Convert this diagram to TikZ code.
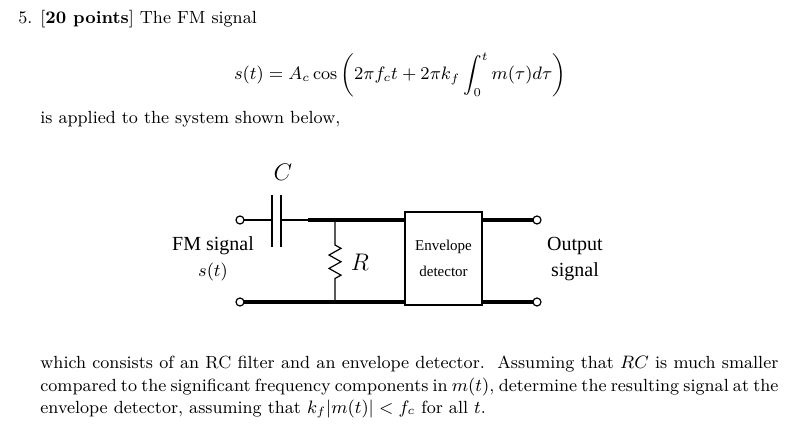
\documentclass[tikz,border=0pt]{standalone}
\usepackage{amsmath}
\usepackage{fontspec}
\newfontfamily\tms{Liberation Serif}
\usetikzlibrary{decorations.pathmorphing}
\begin{document}
\begin{tikzpicture}[x=0.5pt,y=-0.5pt,
  txt/.style={anchor=base west,inner sep=0pt,font=\fontsize{8.8}{11}\selectfont},
  thick wire/.style={line width=1.6pt},
  thin wire/.style={line width=0.6pt},
  term/.style={circle,draw,line width=0.6pt,fill=white,inner sep=0pt,minimum size=4pt},
  clab/.style={inner sep=0pt,font=\tms\fontsize{10}{12}\selectfont,align=center}]
\useasboundingbox (0,0) rectangle (798,438);
\node[txt] (n5) at (18,24) {5.};
\node[txt] (h) at (40,24) {[\textbf{20 points}] The FM signal};
\node[inner sep=0pt,font=\fontsize{8.8}{11}\selectfont] (eq) at (400,75) {$\displaystyle s(t)=A_c\cos\left(2\pi f_ct+2\pi k_f\int_0^t m(\tau)d\tau\right)$};
\node[txt] (ap) at (40,124) {is applied to the system shown below,};
\node[txt] (l1) at (40,369) {\makebox[369pt][s]{which consists of an RC filter and an envelope detector.\ \ Assuming that $RC$ is much smaller}};
\node[txt] (l2) at (40,391) {\makebox[369pt][s]{compared to the significant frequency components in $m(t)$, determine the resulting signal at the}};
\node[txt] (l3) at (40,413) {envelope detector, assuming that $k_f|m(t)|<f_c$ for all $t$.};
% circuit
\coordinate (c1) at (272,220); \coordinate (c2) at (281,220);
\coordinate (j) at (308,220); \coordinate (rt) at (335,220); \coordinate (rb) at (335,302);
\node[draw,line width=1.4pt,minimum width=38.5pt,minimum height=46.5pt,inner sep=0pt,
  font=\tms\fontsize{7.5}{13}\selectfont,align=center] (env) at (443.5,258.5) {Envelope\\detector};
\draw[thin wire] (240,220) -- (c1);
\draw[thin wire] (c2) -- (j);
\draw[line width=1pt] (272,195) -- (272,247) (281,195) -- (281,247);
\draw[thick wire] (j) -- (env.west |- j);
\draw[thin wire] (rt) -- (335,245) decorate[decoration={zigzag,segment length=6.7pt,amplitude=3pt}] {-- (335,285)} -- (rb);
\draw[thick wire] (240,302) -- (env.west |- rb);
\draw[thick wire] (env.east |- j) -- (537,220);
\draw[thick wire] (env.east |- rb) -- (537,302);
\node[term] (t1) at (240,220) {};
\node[term] (t2) at (240,302) {};
\node[term] (t3) at (537,220) {};
\node[term] (t4) at (537,302) {};
\node[clab,font=\fontsize{12}{12}\selectfont] (C) at (283,172) {$C$};
\node[clab,font=\fontsize{12}{12}\selectfont] (R) at (360,262) {$R$};
\node[clab] (fm) at (213,246) {FM signal};
\node[clab,font=\fontsize{9}{12}\selectfont] (st) at (213,272) {$s(t)$};
\node[clab] (out) at (575,246) {Output};
\node[clab] (sig) at (575,272) {signal};
\end{tikzpicture}
\end{document}
